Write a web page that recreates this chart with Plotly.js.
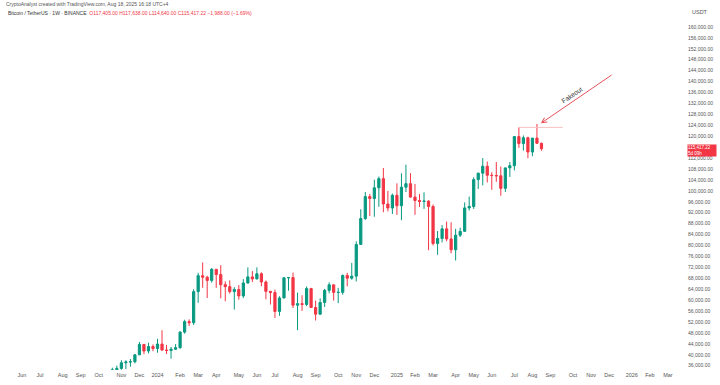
<!DOCTYPE html>
<html>
<head>
<meta charset="utf-8">
<script src="https://cdn.plot.ly/plotly-3.0.1.min.js"></script>
<style>
html,body{margin:0;padding:0;background:#fff;}
#chart{width:720px;height:385px;}
</style>
</head>
<body>
<div id="chart"></div>
<script>
// Weekly BTC/USDT candles (Binance), week start dates
const firstWeek = '2023-10-23';
const openP  = [29993,34526,35011,37064,37359,37450,39973,43790,41374,43016,
  42283,43929,41732,41580,42031,42582,48300,52137,51733,63113,68955,68393,67211,71280,69360,65661,64941,63118,63890,61542,66274,68507,67765,69648,66636,63210,62772,55857,60797,68165,68255,58161,58712,58427,64220,57301,54869,59132,63578,65602,62819,62850,69031,68021,68775,80370,89855,97900,97185,101109,104463,95186,93716,
  98363,94545,101335,102620,97700,96462,96118,96258,94270,80734,82574,86082,82389,78430,83760,85170,93750,94277,104118,106454,109004,105700,105600,105500,100900,108400,109200,119840,117300,119415,114200,119294,117405];
const highP  = [35280,36000,38000,37980,38450,40250,44700,43840,44398,43800,
  45879,48969,43578,42842,43882,48592,52816,52985,64000,69990,73777,68920,71769,71342,72797,66867,67232,64734,65500,67700,71979,70630,71997,70195,67188,63369,63861,61420,68366,68480,70079,62745,61800,65000,64500,59810,60670,64133,66500,65618,64500,69400,70000,73620,81500,93265,99588,98871,104088,105250,108353,99963,98976,
  102724,106422,109588,106457,102500,98826,99475,96500,95000,85300,87453,88765,88500,86100,86496,95758,97895,104970,106660,111980,110718,106800,110530,108900,108500,110500,119900,123218,120247,119800,119311,124474,117638];
const lowP   = [29883,34077,34523,34800,35632,36866,39973,40200,40500,41300,
  40750,41500,40280,38555,41800,42258,47710,50521,50901,59005,64500,60775,66385,64493,60660,59600,62391,56552,60187,60749,66060,66640,67612,65078,60300,58402,53485,54260,60632,63456,57122,49000,56078,57787,57200,52550,54590,57493,62500,59828,58895,62000,65054,67478,66835,80216,89376,90791,90500,94150,92175,92500,91530,
  91203,89256,99550,97500,91231,94100,93388,78258,80000,76606,81134,81565,77153,74508,83100,85100,92800,93377,100700,102000,103068,100372,103300,98200,99600,105100,107500,115736,114723,111920,112650,117180,114640];
const closeP = [34526,35011,37064,37359,37450,39973,43790,41374,43016,42283,
  43929,41732,41580,42031,42582,48300,52137,51733,63113,68955,68393,67211,71280,69360,65661,64941,63118,63890,61542,66274,68507,67765,69648,66636,63210,62772,55857,60797,68165,68255,58161,58712,58427,64220,57301,54869,59132,63578,65602,62819,62850,69031,68021,68775,80370,89855,97900,97185,101109,104463,95186,93716,98363,
  94545,101335,102620,97700,96462,96118,96258,94270,80734,82574,86082,82389,78430,83760,85170,93750,94277,104118,106454,109004,105700,105600,105500,100900,108400,109200,119840,117300,119415,114200,119294,117405,115417];

// Time-axis tick labels (first weekly bar of each month)
const tickDates = ['2023-06-05','2023-07-03','2023-08-07','2023-09-04','2023-10-02','2023-11-06','2023-12-04',
  '2024-01-01','2024-02-05','2024-03-04','2024-04-01','2024-05-06','2024-06-03','2024-07-01','2024-08-05','2024-09-02','2024-10-07','2024-11-04','2024-12-02',
  '2025-01-06','2025-02-03','2025-03-03','2025-04-07','2025-05-05','2025-06-02','2025-07-07','2025-08-04','2025-09-01','2025-10-06','2025-11-03','2025-12-01',
  '2026-01-05','2026-02-02','2026-03-02'];
const tickTexts = ['Jun','Jul','Aug','Sep','Oct','Nov','Dec','2024','Feb','Mar','Apr','May','Jun','Jul','Aug','Sep','Oct','Nov','Dec',
  '2025','Feb','Mar','Apr','May','Jun','Jul','Aug','Sep','Oct','Nov','Dec','2026','Feb','Mar'];

// Price-scale ticks (the one hidden behind the live price tag is skipped)
const priceTickMin = 36000, priceTickMax = 160000, priceTickStep = 4000;
const hiddenPriceTick = 116000;
const priceTicks = [];
for (let v = priceTickMin; v <= priceTickMax; v += priceTickStep) if (v !== hiddenPriceTick) priceTicks.push(v);

// Annotation values
const fakeoutLevel = 123218;
const lastPrice = 115417.22;

// Weekly dates
const weekDates = [];
{
  const d0 = new Date(firstWeek + 'T00:00:00Z');
  for (let i = 0; i < openP.length; i++) {
    const d = new Date(d0.getTime() + i * 7 * 86400000);
    weekDates.push(d.toISOString().slice(0, 10));
  }
}

const GREEN = '#089981', RED = '#f23645';
const FONT = 'Liberation Sans, Arial, sans-serif';

const trace = {
  type: 'candlestick',
  x: weekDates, open: openP, high: highP, low: lowP, close: closeP,
  increasing: {line: {color: GREEN, width: 1}, fillcolor: GREEN},
  decreasing: {line: {color: RED, width: 1}, fillcolor: RED},
  whiskerwidth: 0,
  hoverinfo: 'none',
  showlegend: false
};

const fmt = v => v.toLocaleString('en-US', {minimumFractionDigits: 2, maximumFractionDigits: 2});
const chg = closeP[closeP.length-1] - openP[openP.length-1];

const layout = {
  width: 720, height: 385,
  margin: {l: 0, r: 36, t: 0, b: 15},
  paper_bgcolor: '#ffffff', plot_bgcolor: '#ffffff',
  font: {family: FONT, color: '#555'},
  showlegend: false,
  xaxis: {
    type: 'date',
    range: ['2023-05-01 22:00', '2026-03-26 21:00'],
    rangeslider: {visible: false},
    showgrid: false, zeroline: false, showline: false, ticks: '',
    tickmode: 'array', tickvals: tickDates, ticktext: tickTexts,
    tickfont: {size: 5.5, color: '#555', family: FONT},
    fixedrange: true
  },
  yaxis: {
    side: 'right',
    range: [34430, 169840],
    showgrid: false, zeroline: false, showline: false, ticks: '',
    tickmode: 'array', tickvals: priceTicks,
    tickformat: ',.2f',
    ticklabelstandoff: 3,
    tickfont: {size: 5, color: '#555', family: FONT},
    fixedrange: true
  },
  shapes: [
    {type: 'line', xref: 'x', yref: 'y', x0: '2025-07-14', x1: '2025-09-20', y0: fakeoutLevel, y1: fakeoutLevel,
     line: {color: '#f7c0c0', width: 1}}
  ],
  annotations: [
    {xref: 'x', yref: 'y', x: '2025-08-17', y: 124700, ax: '2025-12-07', ay: 142750, axref: 'x', ayref: 'y',
     showarrow: true, arrowhead: 5, arrowsize: 1, arrowwidth: 1, arrowcolor: '#e5535b', text: ''},
    {xref: 'x', yref: 'y', x: '2025-10-05', y: 135300, text: 'Fakeout', showarrow: false, textangle: -34,
     font: {size: 6.5, color: '#333', family: FONT}},
    {xref: 'paper', yref: 'paper', x: 0.006, y: 0.989, xanchor: 'left', yanchor: 'middle', showarrow: false,
     text: 'CryptoAnalyst created with TradingView.com, Aug 18, 2025 16:18 UTC+4',
     font: {size: 5, color: '#555', family: FONT}},
    {xref: 'paper', yref: 'paper', x: 0.009, y: 0.965, xanchor: 'left', yanchor: 'middle', showarrow: false,
     text: 'Bitcoin / TetherUS · 1W · BINANCE  <span style="color:' + RED + '">O' + fmt(openP[openP.length-1]) +
       ' H' + fmt(highP[highP.length-1]) + ' L' + fmt(lowP[lowP.length-1]) + ' C' + fmt(lastPrice) +
       ' −' + fmt(Math.abs(chg)) + ' (−' + (Math.abs(chg) / openP[openP.length-1] * 100).toFixed(2) + '%)</span>',
     font: {size: 5, color: '#333', family: FONT}},
    {xref: 'paper', yref: 'paper', x: 1.0088, y: 0.9676, xanchor: 'left', yanchor: 'middle', showarrow: false,
     text: 'USDT', font: {size: 5.5, color: '#555', family: FONT}},
    {xref: 'paper', yref: 'y', x: 1.0044, y: lastPrice, xanchor: 'left', yanchor: 'top', yshift: 4.5, showarrow: false,
     text: fmt(lastPrice) + '<br>5d 09h', align: 'left', bgcolor: RED, borderpad: 0, width: 28,
     font: {size: 4.5, color: '#ffffff', family: FONT}}
  ]
};

Plotly.newPlot('chart', [trace], layout, {staticPlot: true, displayModeBar: false});
</script>
</body>
</html>
